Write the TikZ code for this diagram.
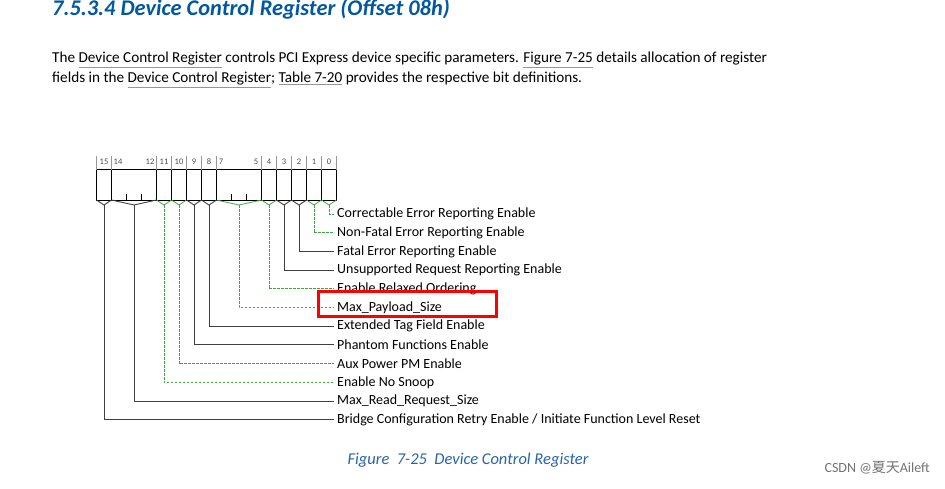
\documentclass[tikz,border=0pt]{standalone}
\usepackage{fontspec}
\setmainfont{Carlito}
\newfontfamily\cjk{Noto Sans CJK SC}
\definecolor{hblue}{RGB}{0,88,160}
\definecolor{cblue}{RGB}{40,100,170}
\definecolor{dgreen}{RGB}{20,140,20}
\definecolor{lgray}{RGB}{150,150,150}
\newcommand\myul[1]{\textcolor{lgray}{\underline{\textcolor{black}{#1}}}}
\begin{document}
\begin{tikzpicture}[x=1pt,y=-1pt,
  lab/.style={anchor=west,inner sep=0pt,font=\fontsize{14}{16}\selectfont},
  num/.style={inner sep=0pt,font=\fontsize{8.5}{10}\selectfont,text=black!70},
  sol/.style={draw=black!75,line width=0.9pt},
  dsh/.style={draw=dgreen!80,line width=0.8pt,dashed,dash pattern=on 2.5pt off 1.5pt}]
\useasboundingbox (0,0) rectangle (945,488);
\fill[white] (0,0) rectangle (945,488);
\node[anchor=west,inner sep=0pt,text=hblue,font=\fontsize{22.4}{25}\selectfont\bfseries\itshape] (hd) at (52,9) {7.5.3.4 Device Control Register (Offset 08h)};
\node[anchor=west,inner sep=0pt,font=\fontsize{15.2}{20}\selectfont] (p1) at (52,60) {The \myul{Device Control Register} controls PCI Express device specific parameters. \myul{Figure~7-25} details allocation of register};
\node[anchor=west,inner sep=0pt,font=\fontsize{15.2}{20}\selectfont] (p2) at (52,80) {fields in the \myul{Device Control Register}; \myul{Table~7-20} provides the respective bit definitions.};
% register box
\draw[line width=1pt] (96.5,169.5) rectangle (336.5,200);
\foreach \x in {111.5,156.5,171.5,186.5,201.5,216.5,261.5,276.5,291.5,306.5,321.5}
  \draw[line width=1pt] (\x,169.5) -- (\x,200);
\foreach \x in {96.5,111.5,156.5,171.5,186.5,201.5,216.5,261.5,276.5,291.5,306.5,321.5,336.5}
  \draw[lgray,line width=0.6pt] (\x,156) -- (\x,169.5);
\foreach \x in {126.5,141.5,231.5,246.5}
  \draw[line width=0.9pt] (\x,200) -- (\x,194);
\foreach \b/\x in {15/104,14/118,12/150,11/164,10/179,9/194,8/209,7/221,5/256,4/269,3/284,2/299,1/314,0/329}
  \node[num] (n\b) at (\x,162) {\b};
% chevrons
\foreach \a/\c/\s in {96.5/104/sol,111.5/134/sol,156.5/164/dsh,171.5/179/dsh,186.5/194/sol,201.5/209/sol,216.5/239/dsh,261.5/269/dsh,276.5/284/sol,291.5/299/sol,306.5/314/dsh,321.5/329/dsh}
  \draw[\s,solid] (\a,200) -- (\c,205) -- ({2*\c-\a},200);
% labels
\foreach \i/\t in {1/Correctable Error Reporting Enable,2/Non-Fatal Error Reporting Enable,3/Fatal Error Reporting Enable,4/Unsupported Request Reporting Enable,5/Enable Relaxed Ordering,6/Max\_Payload\_Size,7/Extended Tag Field Enable,8/Phantom Functions Enable,9/Aux Power PM Enable,10/Enable No Snoop,11/Max\_Read\_Request\_Size,12/{Bridge Configuration Retry Enable / Initiate Function Level Reset}}
  \node[lab] (l\i) at (337,{214+(\i-1)*18.7}) {\t};
\foreach \i/\x/\s in {1/329/dsh,2/314/dsh,3/299/sol,4/284/sol,5/269/dsh,6/239/dsh,7/209/sol,8/194/sol,9/179/dsh,10/164/dsh,11/134/sol,12/104/sol}
  \draw[\s] (\x,205) |- ([xshift=-3pt]l\i.west);
\draw[red,line width=3pt] (318,291.5) rectangle (496,316.5);
\node[inner sep=0pt,text=cblue,font=\fontsize{16.5}{18}\selectfont\itshape] (cap) at (468,460) {Figure~ 7-25~ Device Control Register};
\node[anchor=east,inner sep=0pt,text=black!55,font=\fontsize{14}{16}\selectfont] (wm) at (930,468) {CSDN @{\cjk 夏天}Aileft};
\end{tikzpicture}
\end{document}
